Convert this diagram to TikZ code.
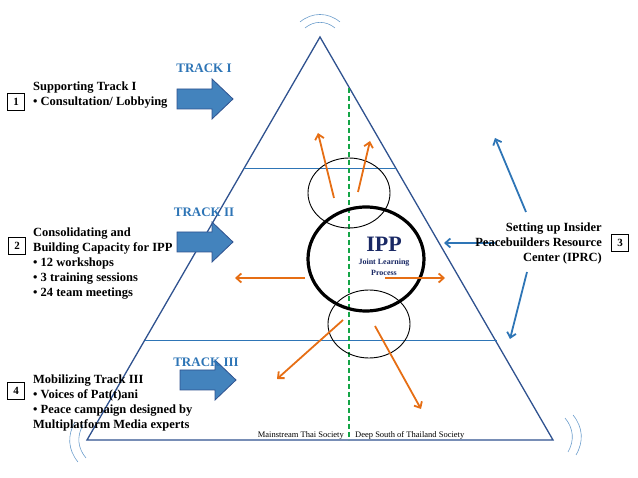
\documentclass[tikz,border=0pt]{standalone}
\usepackage{fontspec}
\setmainfont{Liberation Serif}
\usetikzlibrary{shapes.geometric,arrows.meta}
\definecolor{tblue}{RGB}{46,117,182}
\definecolor{tri}{RGB}{47,82,143}
\definecolor{org}{RGB}{230,110,20}
\definecolor{navy}{RGB}{25,40,100}
\definecolor{grn}{RGB}{20,165,70}
\begin{document}
\begin{tikzpicture}[x=1pt,y=-1pt,
  barrow/.pic={\draw[tri,fill=tblue!90,line width=0.8pt,line join=miter] (-28,-10) -- (7,-10) -- (7,-20) -- (28,0) -- (7,20) -- (7,10) -- (-28,10) -- cycle;},
  oarr/.style={org,line width=1.8pt,-{Straight Barb[length=5pt,width=9pt]}},
  blarr/.style={tblue,line width=1.8pt,-{Straight Barb[length=5pt,width=9pt]}},
  numbox/.style={draw,line width=1.1pt,minimum size=17pt,inner sep=0pt,font=\bfseries\fontsize{11}{11}\selectfont},
  lbl/.style={font=\bfseries\fontsize{12.5}{15}\selectfont,align=left,anchor=west,inner sep=0pt},
  trk/.style={tblue,font=\bfseries\fontsize{13}{13}\selectfont,inner sep=0pt}]
\useasboundingbox (0,0) rectangle (638,478);
% triangle
\coordinate (apex) at (320,37); \coordinate (bl) at (87,440); \coordinate (br) at (553,440);
\draw[tri,line width=1.3pt] (apex) -- (bl) -- (br) -- cycle;
\draw[tblue,line width=0.7pt] (244,168) -- (396,168);
\draw[tblue,line width=0.7pt] (145,340) -- (497,340);
\draw[grn,dash pattern=on 5pt off 3pt,line width=1.4pt] (349,88) -- (349,440);
% decorative arcs
\draw[tblue!70,line width=0.6pt] (305,28) to[bend left=40] (335,28);
\draw[tblue!70,line width=0.6pt] (300,22) to[bend left=40] (340,22);
\draw[tblue!70,line width=0.6pt] (75,422) to[bend right=35] (78,462);
\draw[tblue!70,line width=0.6pt] (83,425) to[bend right=35] (86,458);
\draw[tblue!70,line width=0.6pt] (565,418) to[bend left=35] (568,452);
\draw[tblue!70,line width=0.6pt] (573,415) to[bend left=35] (576,455);
% ellipses
\node[draw,ellipse,line width=0.9pt,minimum width=82pt,minimum height=70pt,inner sep=0pt] (up) at (349,193) {};
\node[draw,ellipse,line width=0.9pt,minimum width=82pt,minimum height=68pt,inner sep=0pt] (lo) at (369,324) {};
\node[draw,ellipse,line width=3.2pt,minimum width=116pt,minimum height=104pt,inner sep=0pt] (ipp) at (366,259) {};
\node[navy,font=\bfseries\fontsize{22}{22}\selectfont,inner sep=0pt] (ippt) at (384,244) {IPP};
\node[navy,font=\bfseries\fontsize{8}{11}\selectfont,align=center,inner sep=0pt] (jl) at (384,267) {Joint Learning\\Process};
% orange arrows
\coordinate (o1s) at (334,198); \coordinate (o1e) at (318,133);
\coordinate (o2s) at (358,192); \coordinate (o2e) at (370,141);
\coordinate (o3s) at (305,278); \coordinate (o3e) at (235,278);
\coordinate (o4s) at (385,278); \coordinate (o4e) at (445,278);
\coordinate (o5s) at (343,320); \coordinate (o5e) at (277,379);
\coordinate (o6s) at (375,326); \coordinate (o6e) at (421,409);
\foreach \i in {1,...,6} \draw[oarr] (o\i s) -- (o\i e);
% blue arrows
\coordinate (b1s) at (526,212); \coordinate (b1e) at (495,138);
\coordinate (b2s) at (527,272); \coordinate (b2e) at (510,339);
\coordinate (b3s) at (495,243); \coordinate (b3e) at (444,243);
\foreach \i in {1,2,3} \draw[blarr] (b\i s) -- (b\i e);
% block arrows
\pic (a1) at (205,99) {barrow};
\pic (a2) at (205,242) {barrow};
\pic (a3) at (208,380) {barrow};
\node[trk] (t1) at (204,68) {TRACK I};
\node[trk] (t2) at (204,212) {TRACK II};
\node[trk] (t3) at (206,362) {TRACK III};
% number boxes
\node[numbox] (n1) at (16,102) {1};
\node[numbox] (n2) at (17,246) {2};
\node[numbox] (n3) at (620,243) {3};
\node[numbox] (n4) at (16,391) {4};
% texts
\node[lbl] (l1) at (33,95) {Supporting Track I\\• Consultation/ Lobbying};
\node[lbl] (l2) at (33,264) {Consolidating and\\Building Capacity for IPP\\• 12 workshops\\• 3 training sessions\\• 24 team meetings};
\node[lbl] (l4) at (33,403) {Mobilizing Track III\\• Voices of Pat(t)ani\\• Peace campaign designed by\\Multiplatform Media experts};
\node[font=\bfseries\fontsize{12.5}{15}\selectfont,align=right,anchor=east,inner sep=0pt] (l3) at (602,243) {Setting up Insider\\Peacebuilders Resource\\Center (IPRC)};
\node[font=\fontsize{8.5}{9}\selectfont,anchor=east,inner sep=0pt] (m1) at (344,435) {Mainstream Thai Society};
\node[font=\fontsize{8.5}{9}\selectfont,anchor=west,inner sep=0pt] (m2) at (355,435) {Deep South of Thailand Society};
\end{tikzpicture}
\end{document}
